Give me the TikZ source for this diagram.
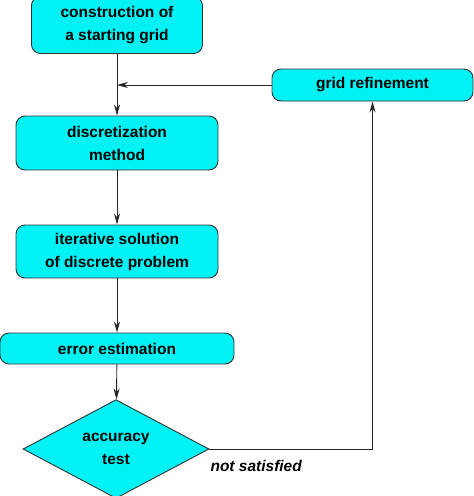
\documentclass[tikz,border=0pt]{standalone}
\usepackage{fontspec}
\setmainfont{Liberation Sans}
\usetikzlibrary{positioning,shapes.geometric,arrows.meta}
\definecolor{gridcyan}{RGB}{0,242,245}
\tikzset{
	gridbox/.style={
		draw=black!80,
		fill=gridcyan,
		line width=0.9pt,
		align=center,
		inner sep=2pt,
		font=\fontsize{15.5}{23}\selectfont\bfseries
	},
	gridStep/.style={gridbox, rounded corners=9pt},
	gridTest/.style={gridbox, diamond, inner sep=0pt},
	gridFlow/.style={-{Stealth[length=11pt,width=6pt]}, line width=0.9pt, draw=black!85}
}
\begin{document}
\begin{tikzpicture}[x=1pt,y=-1pt]
	\useasboundingbox (0,0) rectangle (474,496);

	% Main chain
	\node[gridStep, minimum width=171pt, minimum height=57pt] (start) at (117,25)
	{construction of\\a starting grid};
	\node[gridStep, minimum width=202pt, minimum height=54pt] (discr) at (117,143)
	{discretization\\method};
	\node[gridStep, minimum width=202pt, minimum height=53pt] (iter) at (117,251.5)
	{iterative solution\\of discrete problem};
	\node[gridStep, minimum width=234pt, minimum height=31pt] (error) at (117,348.5)
	{error estimation};
	\node[gridTest, minimum width=186pt, minimum height=92pt] (test) at (116,449)
	{accuracy\\test};

	% Refinement loop
	\node[gridStep, minimum width=201pt, minimum height=32pt] (refine) at (372.5,85)
	{grid refinement};
	\coordinate (join) at (refine.west -| start);
	\node[anchor=west, font=\fontsize{15.5}{18}\selectfont\bfseries\itshape] (notsat) at (207,466)
	{not satisfied};

	% Flows
	\draw[gridFlow] (start) -- (discr);
	\draw[gridFlow] (discr) -- (iter);
	\draw[gridFlow] (iter) -- (error);
	\draw[gridFlow] (error) -- (test);
	\draw[gridFlow] (refine.west) -- (join);
	\draw[gridFlow] (test.east) -| (refine.south);

\end{tikzpicture}
\end{document}
